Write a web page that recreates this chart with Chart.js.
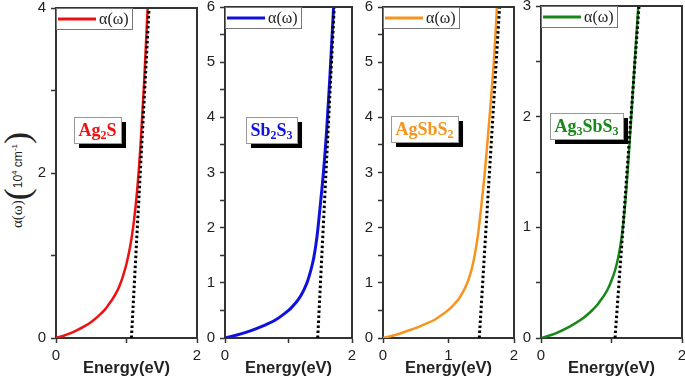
<!DOCTYPE html>
<html lang="en">
<head>
<meta charset="UTF-8">
<title>Absorption coefficient</title>
<script src="https://cdn.jsdelivr.net/npm/chart.js"></script>
<style>
  body { margin:0; width:685px; height:378px; overflow:hidden; background:#fff; position:relative; }
  canvas { position:absolute; top:0; }
  #ytitle {
    position:absolute; left:17px; top:180px;
    transform:translate(-50%,-50%) rotate(-90deg);
    white-space:nowrap; color:#222;
    font:15px "Liberation Serif", serif;
  }
  #ytitle .pr { font-size:36px; font-weight:100; vertical-align:-7px; }
  #ytitle .u { font:12px "Liberation Sans", sans-serif; }
  #ytitle sup { font-size:8px; }
</style>
</head>
<body>
<div id="ytitle">α(ω)<span class="pr">(</span><span class="u">10<sup>4</sup> cm<sup>-1</sup></span><span class="pr">)</span></div>
<canvas id="c1" width="181" height="378" style="left:26px"></canvas>
<canvas id="c2" width="167" height="378" style="left:195px"></canvas>
<canvas id="c3" width="171" height="378" style="left:353px"></canvas>
<canvas id="c4" width="175" height="378" style="left:511px"></canvas>
<script>
// Ag2S
const ag2sEnergy = [0, 0.1, 0.2, 0.3, 0.4, 0.5, 0.6, 0.7, 0.75, 0.8, 0.85, 0.9, 0.95, 1.0, 1.05, 1.1, 1.15, 1.2, 1.25, 1.3];
const ag2sAlpha  = [0, 0.025, 0.055, 0.095, 0.14, 0.195, 0.265, 0.35, 0.41, 0.47, 0.54, 0.63, 0.75, 0.9, 1.1, 1.38, 1.78, 2.35, 3.1, 4.0];
const ag2sFitE = [1.07, 1.32];
const ag2sFitA = [0, 4];
// Sb2S3
const sb2s3Energy = [0, 0.2, 0.4, 0.6, 0.8, 0.9, 1.0, 1.05, 1.1, 1.15, 1.2, 1.25, 1.3, 1.35, 1.4, 1.45, 1.5, 1.55, 1.6, 1.65, 1.71];
const sb2s3Alpha  = [0, 0.06, 0.13, 0.22, 0.33, 0.41, 0.5, 0.555, 0.62, 0.69, 0.78, 0.89, 1.03, 1.22, 1.47, 1.85, 2.4, 3.0, 3.75, 4.7, 6.0];
const sb2s3FitE = [1.46, 1.72];
const sb2s3FitA = [0, 6];
// AgSbS2
const agsbs2Energy = [0, 0.2, 0.4, 0.6, 0.8, 0.9, 1.0, 1.05, 1.1, 1.15, 1.2, 1.25, 1.3, 1.35, 1.4, 1.45, 1.5, 1.55, 1.6, 1.65, 1.7, 1.74];
const agsbs2Alpha  = [0, 0.06, 0.14, 0.23, 0.34, 0.42, 0.51, 0.565, 0.63, 0.7, 0.79, 0.9, 1.04, 1.23, 1.5, 1.87, 2.38, 2.95, 3.62, 4.35, 5.15, 6.0];
const agsbs2FitE = [1.47, 1.78];
const agsbs2FitA = [0, 6];
// Ag3SbS3
const ag3sbs3Energy = [0, 0.2, 0.4, 0.6, 0.7, 0.8, 0.85, 0.9, 0.95, 1.0, 1.05, 1.1, 1.15, 1.2, 1.25, 1.3, 1.35, 1.38];
const ag3sbs3Alpha  = [0, 0.04, 0.1, 0.18, 0.235, 0.3, 0.345, 0.39, 0.445, 0.52, 0.61, 0.74, 0.94, 1.26, 1.7, 2.2, 2.7, 3.0];
const ag3sbs3FitE = [1.05, 1.39];
const ag3sbs3FitA = [0, 3];

// tick labels
const xTicksShort = [0, 2];
const xTicksFull = [0, 1, 2];
const yTicks4 = [0, 2, 4];
const yTicks6 = [0, 1, 2, 3, 4, 5, 6];
const yTicks3 = [0, 1, 2, 3];

const legendLabel = 'α(ω)';
const axisColor = '#333';
const tickFont = { family: '"Liberation Sans", Arial, sans-serif', size: 15 };

// frame, legend box and compound label
const panelDecor = {
  id: 'panelDecor',
  afterDraw(chart, args, opts) {
    const ctx = chart.ctx;
    const a = chart.chartArea;
    ctx.save();
    ctx.strokeStyle = axisColor;
    ctx.lineWidth = 2;
    ctx.beginPath();
    ctx.moveTo(a.left, a.top);
    ctx.lineTo(a.right, a.top);
    ctx.lineTo(a.right, a.bottom);
    ctx.stroke();

    // legend
    const ds = chart.data.datasets[1];
    ctx.fillStyle = '#fff';
    ctx.fillRect(a.left + 1, a.top + 1, 76, 21);
    ctx.strokeStyle = '#777';
    ctx.lineWidth = 1;
    ctx.strokeRect(a.left + 0.5, a.top + 0.5, 76, 21);
    ctx.strokeStyle = ds.borderColor;
    ctx.lineWidth = 3;
    ctx.beginPath();
    ctx.moveTo(a.left + 2, a.top + 11);
    ctx.lineTo(a.left + 40, a.top + 11);
    ctx.stroke();
    ctx.fillStyle = '#222';
    ctx.font = '16px "Liberation Serif", serif';
    ctx.textBaseline = 'middle';
    ctx.fillText(ds.label, a.left + 43, a.top + 12);

    // compound name with subscripts
    const parts = opts.name.match(/[A-Za-z]+|\d+/g);
    const big = 'bold 18px "Liberation Serif", serif';
    const small = 'bold 12px "Liberation Serif", serif';
    let tw = 0;
    parts.forEach(s => { ctx.font = /\d/.test(s) ? small : big; tw += ctx.measureText(s).width; });
    const bx = a.left + opts.dx, by = a.top + opts.dy, bw = tw + 9, bh = 26;
    ctx.fillStyle = '#000';
    ctx.fillRect(bx + 5, by + 5, bw, bh);
    ctx.fillStyle = '#fff';
    ctx.fillRect(bx, by, bw, bh);
    ctx.strokeStyle = '#999';
    ctx.lineWidth = 1;
    ctx.strokeRect(bx + 0.5, by + 0.5, bw, bh);
    ctx.fillStyle = opts.color;
    ctx.textBaseline = 'alphabetic';
    let tx = bx + 4.5;
    parts.forEach(s => {
      const sub = /\d/.test(s);
      ctx.font = sub ? small : big;
      ctx.fillText(s, tx, by + (sub ? 22 : 19));
      tx += ctx.measureText(s).width;
    });
    ctx.restore();
  }
};

function makePanel(id, p) {
  new Chart(document.getElementById(id), {
    type: 'line',
    data: {
      datasets: [
        {
          label: '',
          data: p.fitE.map((e, i) => ({ x: e, y: p.fitA[i] })),
          borderColor: '#000', borderWidth: 3, borderDash: [2.5, 2.5],
          pointRadius: 0, order: 0
        },
        {
          label: legendLabel,
          data: p.energy.map((e, i) => ({ x: e, y: p.alpha[i] })),
          borderColor: p.color, borderWidth: p.width,
          pointRadius: 0, cubicInterpolationMode: 'monotone', order: 1
        }
      ]
    },
    options: {
      responsive: false,
      animation: false,
      layout: { padding: { top: p.top, right: p.right, bottom: 0, left: 0 } },
      plugins: {
        legend: { display: false },
        tooltip: { enabled: false },
        panelDecor: { name: p.name, color: p.color, dx: p.dx, dy: p.dy }
      },
      scales: {
        x: {
          type: 'linear', min: 0, max: 2,
          ticks: {
            stepSize: 1, autoSkip: false, maxRotation: 0, padding: 4,
            font: tickFont, color: '#222',
            callback: v => p.xTicks.includes(v) ? String(v) : ''
          },
          grid: { drawOnChartArea: false, tickLength: 5, color: axisColor, tickWidth: 1.5 },
          border: { color: axisColor, width: 2 },
          title: {
            display: true, text: 'Energy(eV)', color: '#222',
            font: { family: '"Liberation Sans", Arial, sans-serif', size: 16.5, weight: 'bold' },
            padding: { top: 0, bottom: 0 }
          },
          afterFit(s) { s.height = 40; s.paddingLeft = 0; s.paddingRight = 0; }
        },
        y: {
          min: 0, max: p.yMax,
          ticks: {
            stepSize: p.yStep, autoSkip: false, maxTicksLimit: 100, padding: 5,
            font: tickFont, color: '#222',
            callback: v => p.yTicks.includes(v) ? String(v) : ''
          },
          grid: { drawOnChartArea: false, tickLength: 5, color: axisColor, tickWidth: 1.5 },
          border: { color: axisColor, width: 2 },
          afterFit(s) { s.width = 30; s.paddingTop = 0; s.paddingBottom = 0; }
        }
      }
    },
    plugins: [panelDecor]
  });
}

makePanel('c1', { energy: ag2sEnergy, alpha: ag2sAlpha, fitE: ag2sFitE, fitA: ag2sFitA,
  color: '#ee1111', width: 2.5, name: 'Ag2S', yMax: 4, yStep: 1, yTicks: yTicks4, xTicks: xTicksShort,
  top: 8, right: 10, dx: 18, dy: 109 });
makePanel('c2', { energy: sb2s3Energy, alpha: sb2s3Alpha, fitE: sb2s3FitE, fitA: sb2s3FitA,
  color: '#1111dd', width: 3, name: 'Sb2S3', yMax: 6, yStep: 0.5, yTicks: yTicks6, xTicks: xTicksShort,
  top: 7, right: 10, dx: 21, dy: 110 });
makePanel('c3', { energy: agsbs2Energy, alpha: agsbs2Alpha, fitE: agsbs2FitE, fitA: agsbs2FitA,
  color: '#f7941d', width: 2.5, name: 'AgSbS2', yMax: 6, yStep: 0.5, yTicks: yTicks6, xTicks: xTicksFull,
  top: 7, right: 10, dx: 8, dy: 109 });
makePanel('c4', { energy: ag3sbs3Energy, alpha: ag3sbs3Alpha, fitE: ag3sbs3FitE, fitA: ag3sbs3FitA,
  color: '#17871a', width: 2.5, name: 'Ag3SbS3', yMax: 3, yStep: 0.5, yTicks: yTicks3, xTicks: xTicksShort,
  top: 6, right: 4, dx: 9, dy: 107 });
</script>
</body>
</html>
